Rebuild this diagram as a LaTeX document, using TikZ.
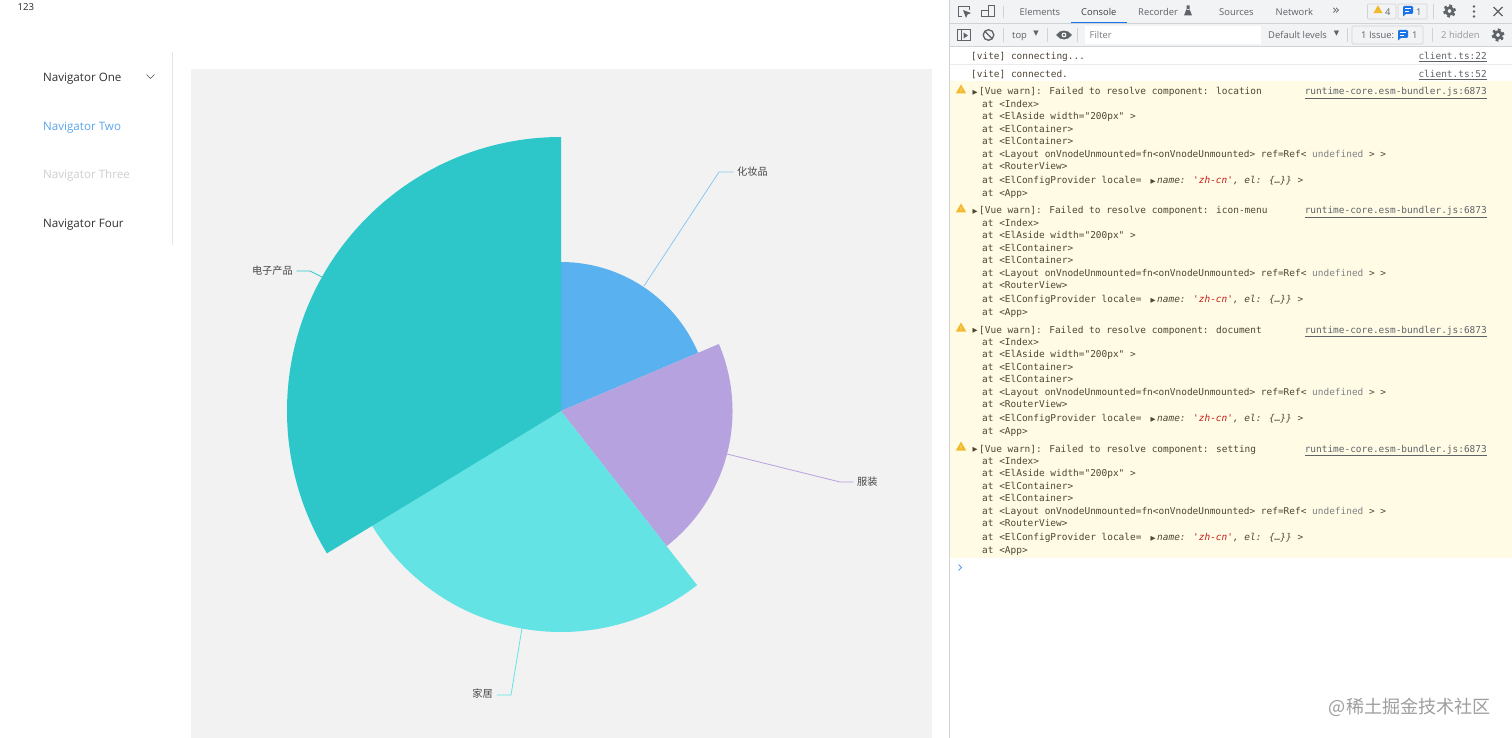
\documentclass[tikz,border=0pt]{standalone}
\usepackage{fontspec}
\setmainfont{Open Sans}
\newfontfamily\confont{DejaVu Sans Mono}
\newfontfamily\symfont{DejaVu Sans}
\newfontfamily\cjkfont{Noto Sans CJK SC}
\usepackage{xcolor}
\usepackage{tikz}
\usetikzlibrary{positioning}
\usetikzlibrary{shapes.geometric}
\definecolor{PieBlue}{HTML}{5AB1EF}
\definecolor{PiePurple}{HTML}{B6A2DE}
\definecolor{PieLight}{HTML}{64E3E5}
\definecolor{PieDark}{HTML}{2EC7C9}
\definecolor{ChartBack}{HTML}{F2F2F2}
\definecolor{BarBack}{HTML}{F1F3F4}
\definecolor{BarLine}{HTML}{D0D3D6}
\definecolor{WarnBack}{HTML}{FFFBE5}
\definecolor{WarnText}{HTML}{4E4632}
\definecolor{WarnIcon}{HTML}{F2B92C}
\definecolor{NavText}{HTML}{303133}
\definecolor{NavBlue}{HTML}{5AA5EE}
\definecolor{NavGrey}{HTML}{CDCFD2}
\definecolor{TabBlue}{HTML}{1A73E8}
\definecolor{ToolText}{HTML}{5F6368}
\definecolor{ZhRed}{HTML}{C41A16}
\newcommand{\opener}{\makebox[8pt][l]{\hspace{1.5pt}\raisebox{0.6pt}{\symfont\fontsize{6.5}{8}\selectfont\char"25B6}}}
\tikzset{
  nav/.style={font=\fontsize{11.6}{13}\selectfont, text=NavText, inner sep=0pt, anchor=base west},
  con/.style={font=\confont\fontsize{9.45}{11}\selectfont, text=WarnText, inner sep=0pt, anchor=base west},
  nextline/.style={below=12.45pt of #1.base west, anchor=base west},
  lastline/.style={below=14.2pt of #1.base west, anchor=base west},
  src/.style={font=\confont\fontsize{9.45}{11}\selectfont, text=ToolText, inner sep=0pt, anchor=base east},
  tool/.style={font=\fontsize{9.4}{11}\selectfont, text=ToolText, inner sep=0pt, anchor=base west},
  sym/.style={font=\symfont\fontsize{#1}{#1}\selectfont, text=ToolText, inner sep=0pt},
  lab/.style={font=\cjkfont\fontsize{10.2}{12}\selectfont, text=black!72, inner sep=3.5pt},
  warnsign/.style={regular polygon, regular polygon sides=3, fill=WarnIcon, text=white, inner sep=0pt,
    minimum size=12pt, font=\symfont\fontsize{5}{5}\selectfont},
  sep/.style={draw=BarLine, line width=0.8pt},
  leader/.style={line width=0.8pt},
  msgbubble/.pic={
    \fill[TabBlue, rounded corners=1.2pt] (-5,4.5) rectangle (5,-3.5);
    \fill[TabBlue] (-5,-2) -- (-5,-6) -- (-1.5,-3) -- cycle;
    \draw[white, line width=0.8pt] (-3,2) -- (3,2) (-3,-0.5) -- (1,-0.5);
  },
  gearicon/.pic={
    \draw[ToolText, line width=2.6pt] (0,0) circle (3.4);
    \draw[ToolText, line width=2pt, dash pattern=on 2.9pt off 2.9pt] (0,0) circle (5.6);
  }
}
\begin{document}
\begin{tikzpicture}[x=1pt, y=1pt]
\useasboundingbox (0,0) rectangle (1512,-738);
\fill[white] (0,0) rectangle (1512,-738);
\node[nav, font=\fontsize{9.6}{11}\selectfont, text=black!85] (top) at (17.5,-11) {123};
\node[nav] (nav1) at (43,-81.5) {Navigator One};
\node[nav, text=NavBlue] (nav2) at (43,-130.5) {Navigator Two};
\node[nav, text=NavGrey] (nav3) at (43,-178.5) {Navigator Three};
\node[nav] (nav4) at (43,-227.5) {Navigator Four};
\draw[NavText!85, line width=0.7pt] (146.5,-74.5) -- (150.5,-78.5) -- (154.5,-74.5);
\draw[black!10, line width=0.8pt] (172.5,-52) -- (172.5,-245);
\fill[ChartBack] (191,-69) rectangle (932,-738);
\coordinate (pie) at (561,-411);
\coordinate (rim1) at (644,-286);
\coordinate (bend1) at (719,-172);
\coordinate (rim2) at (727,-454);
\coordinate (bend2) at (840,-482);
\coordinate (rim3) at (522,-628);
\coordinate (bend3) at (511,-695);
\coordinate (rim4) at (322,-277);
\coordinate (bend4) at (310,-271);
\node[lab, anchor=west] (cosmetics) at (733.5,-171.7) {化妆品};
\node[lab, anchor=west] (clothes) at (853.5,-481.7) {服装};
\node[lab, anchor=east] (home) at (496.5,-694) {家居};
\node[lab, anchor=east] (digital) at (296.5,-270.7) {电子产品};
\draw[leader, PieBlue!70] (rim1) -- (bend1) -- (cosmetics.west |- bend1);
\draw[leader, PiePurple] (rim2) -- (bend2) -- (clothes.west |- bend2);
\draw[leader, PieLight] (rim3) -- (bend3) -- (home.east |- bend3);
\draw[leader, PieDark] (rim4) -- (bend4) -- (digital.east |- bend4);
\fill[PieBlue] (pie) -- ++(90:149) arc[start angle=90, end angle=23, radius=149] -- cycle;
\fill[PiePurple] (pie) -- ++(23:171.5) arc[start angle=23, end angle=-52, radius=171.5] -- cycle;
\fill[PieLight] (pie) -- ++(-52:221) arc[start angle=-52, end angle=-149, radius=221] -- cycle;
\fill[PieDark] (pie) -- ++(90:274) arc[start angle=90, end angle=211.3, radius=274] -- cycle;
\draw[BarLine, line width=0.8pt] (949.5,0) -- (949.5,-738);
\fill[BarBack] (950,0) rectangle (1512,-46);
\draw[BarLine, line width=0.6pt] (950,-23.5) -- (1512,-23.5);
\draw[BarLine, line width=0.6pt] (950,-46.5) -- (1512,-46.5);
\draw[black!8, line width=0.6pt] (950,-64.5) -- (1512,-64.5);
\fill[WarnBack] (950,-81) rectangle (1512,-558);
\draw[ToolText, line width=1pt] (969.5,-10) -- (969.5,-6.5) -- (958.5,-6.5) -- (958.5,-16.5) -- (962,-16.5);
\fill[ToolText] (963,-10) -- (971,-13) -- (967.5,-14.5) -- (966,-18) -- cycle;
\draw[ToolText, line width=1pt] (988,-6) rectangle (994,-17);
\draw[ToolText, line width=1pt] (981.5,-10.5) rectangle (988,-17);
\draw[sep] (1003.5,-6) -- (1003.5,-18);
\node[tool] (elements) at (1019.5,-16) {Elements};
\node[tool, text=black!75] (console) at (1081,-16) {Console};
\node[tool] (recorder) at (1138,-16) {Recorder};
\fill[ToolText] (1186.5,-5.5) rectangle (1189.5,-10) (1186.5,-9) -- (1189.5,-9) -- (1192,-15.5) -- (1184,-15.5) -- cycle;
\node[tool] (sources) at (1219,-16) {Sources};
\node[tool] (network) at (1275.5,-16) {Network};
\node[sym=13] (more) at (1336,-11.5) {»};
\draw[TabBlue, line width=1.3pt] (1071,-22.5) -- (1127,-22.5);
\draw[BarLine, rounded corners=1pt, fill=BarBack, line width=0.6pt] (1367.5,-4) rectangle (1396,-19);
\node[warnsign, minimum size=10.5pt] (warncount) at (1378,-10.5) {};
\node[tool] (warnfour) at (1385,-15.5) {4};
\draw[BarLine, rounded corners=1pt, fill=BarBack, line width=0.6pt] (1398,-4) rectangle (1427,-19);
\pic at (1408,-10.5) {msgbubble};
\node[tool] (msgone) at (1416,-15.5) {1};
\draw[sep] (1433.5,-4) -- (1433.5,-19);
\pic at (1449.5,-11) {gearicon};
\fill[ToolText] (1474,-6.5) circle (1.3) (1474,-11.5) circle (1.3) (1474,-16.5) circle (1.3);
\draw[ToolText, line width=1.1pt] (1493.5,-7) -- (1502.5,-16) (1502.5,-7) -- (1493.5,-16);
\draw[ToolText, line width=1pt] (957.5,-30) rectangle (970,-41);
\draw[ToolText, line width=1pt] (961,-30) -- (961,-41);
\fill[ToolText] (963.5,-32.5) -- (968,-35.5) -- (963.5,-38.5) -- cycle;
\draw[ToolText, line width=1.3pt] (988.5,-35) circle (5.3);
\draw[ToolText, line width=1.3pt] (984.8,-31.2) -- (992.2,-38.8);
\draw[sep] (1003.5,-28) -- (1003.5,-42);
\node[tool] (topctx) at (1012,-39) {top};
\node[sym=7] (topdown) at (1036,-34) {▼};
\draw[sep] (1047,-28) -- (1047,-42);
\draw[ToolText, fill=ToolText, line width=0.5pt] (1056.5,-35) .. controls (1060,-29.5) and (1068,-29.5) .. (1071.5,-35) .. controls (1068,-40.5) and (1060,-40.5) .. (1056.5,-35);
\fill[white] (1064,-35) circle (2.4);
\fill[ToolText] (1064,-35) circle (1.4);
\draw[sep] (1077.5,-28) -- (1077.5,-42);
\fill[white] (1085,-26) rectangle (1261,-44);
\node[tool, text=ToolText!85] (filter) at (1089.5,-39) {Filter};
\node[tool] (levels) at (1268,-39) {Default levels};
\node[sym=7] (levelsdown) at (1336.5,-34) {▼};
\draw[sep] (1347,-28) -- (1347,-42);
\draw[BarLine, rounded corners=1pt, line width=0.6pt] (1352,-26) rectangle (1423,-44);
\node[tool] (issue) at (1361,-39) {1 Issue:};
\pic at (1403,-34.5) {msgbubble};
\node[tool] (issueone) at (1412,-39) {1};
\draw[sep] (1432.5,-28) -- (1432.5,-42);
\node[tool, text=ToolText!65] (hidden) at (1441,-39) {2 hidden};
\pic at (1498,-35) {gearicon};
\node[con] (vite1) at (971,-60) {[vite] connecting...};
\node[src] (vitesrc1) at (1487,-60) {\underline{client.ts:22}};
\node[con] (vite2) at (971,-78) {[vite] connected.};
\node[src] (vitesrc2) at (1487,-78) {\underline{client.ts:52}};
\node[warnsign] (w1) at (961,-90.5) {!};
\node[con] (w1a) at (971,-95) {\opener[Vue warn]: Failed to resolve component: location};
\node[src] (w1src) at (1487,-95) {\underline{runtime-core.esm-bundler.js:6873}};
\node[con] (w1b) at (982,-107.5) {at <Index>};
\node[con, nextline=w1b] (w1c) {at <ElAside width="200px" >};
\node[con, nextline=w1c] (w1d) {at <ElContainer>};
\node[con, nextline=w1d] (w1e) {at <ElContainer>};
\node[con, nextline=w1e] (w1f) {at <Layout onVnodeUnmounted=fn<onVnodeUnmounted> ref=Ref< \textcolor{ToolText!80}{undefined} > >};
\node[con, nextline=w1f] (w1g) {at <RouterView>};
\node[con, lastline=w1g] (w1h) {at <ElConfigProvider locale= \kern2pt\opener{\itshape name: \textcolor{ZhRed}{'zh-cn'}, el: \{…\}\} >}};
\node[con, nextline=w1h] (w1i) {at <App>};
\node[warnsign] (w2) at (961,-209.5) {!};
\node[con] (w2a) at (971,-214) {\opener[Vue warn]: Failed to resolve component: icon-menu};
\node[src] (w2src) at (1487,-214) {\underline{runtime-core.esm-bundler.js:6873}};
\node[con] (w2b) at (982,-226.5) {at <Index>};
\node[con, nextline=w2b] (w2c) {at <ElAside width="200px" >};
\node[con, nextline=w2c] (w2d) {at <ElContainer>};
\node[con, nextline=w2d] (w2e) {at <ElContainer>};
\node[con, nextline=w2e] (w2f) {at <Layout onVnodeUnmounted=fn<onVnodeUnmounted> ref=Ref< \textcolor{ToolText!80}{undefined} > >};
\node[con, nextline=w2f] (w2g) {at <RouterView>};
\node[con, lastline=w2g] (w2h) {at <ElConfigProvider locale= \kern2pt\opener{\itshape name: \textcolor{ZhRed}{'zh-cn'}, el: \{…\}\} >}};
\node[con, nextline=w2h] (w2i) {at <App>};
\node[warnsign] (w3) at (961,-328.5) {!};
\node[con] (w3a) at (971,-333) {\opener[Vue warn]: Failed to resolve component: document};
\node[src] (w3src) at (1487,-333) {\underline{runtime-core.esm-bundler.js:6873}};
\node[con] (w3b) at (982,-345.5) {at <Index>};
\node[con, nextline=w3b] (w3c) {at <ElAside width="200px" >};
\node[con, nextline=w3c] (w3d) {at <ElContainer>};
\node[con, nextline=w3d] (w3e) {at <ElContainer>};
\node[con, nextline=w3e] (w3f) {at <Layout onVnodeUnmounted=fn<onVnodeUnmounted> ref=Ref< \textcolor{ToolText!80}{undefined} > >};
\node[con, nextline=w3f] (w3g) {at <RouterView>};
\node[con, lastline=w3g] (w3h) {at <ElConfigProvider locale= \kern2pt\opener{\itshape name: \textcolor{ZhRed}{'zh-cn'}, el: \{…\}\} >}};
\node[con, nextline=w3h] (w3i) {at <App>};
\node[warnsign] (w4) at (961,-447.5) {!};
\node[con] (w4a) at (971,-452) {\opener[Vue warn]: Failed to resolve component: setting};
\node[src] (w4src) at (1487,-452) {\underline{runtime-core.esm-bundler.js:6873}};
\node[con] (w4b) at (982,-464.5) {at <Index>};
\node[con, nextline=w4b] (w4c) {at <ElAside width="200px" >};
\node[con, nextline=w4c] (w4d) {at <ElContainer>};
\node[con, nextline=w4d] (w4e) {at <ElContainer>};
\node[con, nextline=w4e] (w4f) {at <Layout onVnodeUnmounted=fn<onVnodeUnmounted> ref=Ref< \textcolor{ToolText!80}{undefined} > >};
\node[con, nextline=w4f] (w4g) {at <RouterView>};
\node[con, lastline=w4g] (w4h) {at <ElConfigProvider locale= \kern2pt\opener{\itshape name: \textcolor{ZhRed}{'zh-cn'}, el: \{…\}\} >}};
\node[con, nextline=w4h] (w4i) {at <App>};
\draw[TabBlue!70, line width=0.8pt] (958.5,-564.5) -- (961.5,-567.5) -- (958.5,-570.5);
\node[font=\cjkfont\fontsize{18.1}{20}\selectfont, text=black!38, inner sep=0pt, anchor=base east] (mark) at (1491,-713) {@稀土掘金技术社区};
\end{tikzpicture}
\end{document}
